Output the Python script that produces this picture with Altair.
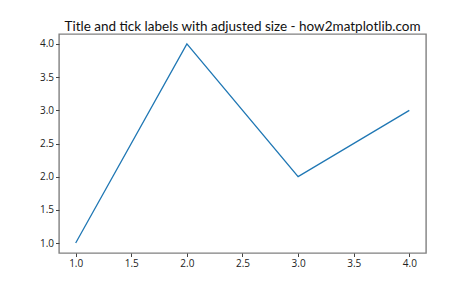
import altair as alt
import pandas as pd

x_vals = [1, 2, 3, 4]
y_vals = [1, 4, 2, 3]
tick_vals = [1.0, 1.5, 2.0, 2.5, 3.0, 3.5, 4.0]
title_text = "Title and tick labels with adjusted size - how2matplotlib.com"

df = pd.DataFrame({"x": x_vals, "y": y_vals})

FONT = "Open Sans"

chart = alt.Chart(df).mark_line(color="#1f77b4", strokeWidth=1.3).encode(
    x=alt.X("x:Q", scale=alt.Scale(domain=[0.85, 4.15], nice=False, zero=False),
            axis=alt.Axis(values=tick_vals, format=".1f", title=None, grid=False,
                          domain=False, tickSize=3.5, tickColor="#444", labelPadding=2,
                          labelFontSize=10, labelFont=FONT, labelColor="#222")),
    y=alt.Y("y:Q", scale=alt.Scale(domain=[0.85, 4.15], nice=False, zero=False),
            axis=alt.Axis(values=tick_vals, format=".1f", title=None, grid=False,
                          domain=False, tickSize=3.5, tickColor="#444", labelPadding=2,
                          labelFontSize=10, labelFont=FONT, labelColor="#222")),
).properties(
    width=367, height=219,
    background="white",
    title=alt.TitleParams(title_text, fontSize=13.5, font="Lato", fontWeight="normal",
                          color="#111", anchor="middle", offset=1),
    autosize=alt.AutoSizeParams(type="none"),
    padding={"left": 59, "top": 34, "right": 48, "bottom": 31},
).configure_view(stroke="#808080", strokeWidth=1.4)

chart.save("out.html", embed_options={"renderer": "svg", "actions": False})
